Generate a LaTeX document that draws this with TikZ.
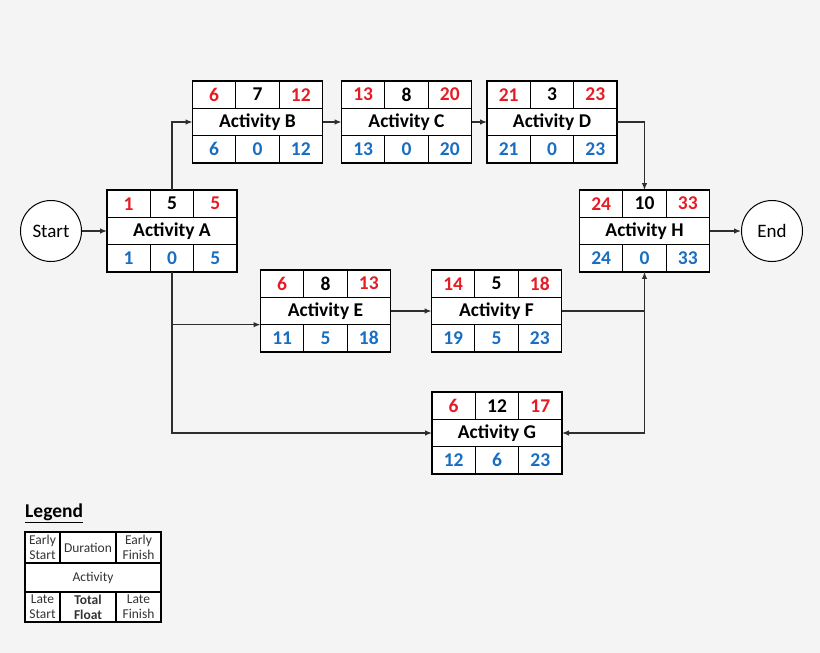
\documentclass[tikz,border=0pt]{standalone}
\usepackage{fontspec}
\setmainfont{Carlito}
\usetikzlibrary{%
  arrows.meta,% Latex tips
  positioning%
}

\definecolor{esred}{RGB}{230,28,36}
\definecolor{lsblue}{RGB}{24,110,192}
\definecolor{paper}{RGB}{244,244,244}

% one activity box: name, centre, label, ES, D, EF, LS, TF, LF
\newcommand{\activity}[9]{%
  \node (#1) [midcell] at (#2) {#3};
  \node (#1-es) [cell,text=esred,anchor=south west] at (#1.north west) {#4};
  \node (#1-d) [cell,anchor=south] at (#1.north) {#5};
  \node (#1-ef) [cell,text=esred,anchor=south east] at (#1.north east) {#6};
  \node (#1-ls) [cell,text=lsblue,anchor=north west] at (#1.south west) {#7};
  \node (#1-tf) [cell,text=lsblue,anchor=north] at (#1.south) {#8};
  \node (#1-lf) [cell,text=lsblue,anchor=north east] at (#1.south east) {#9};
}

\begin{document}
\begin{tikzpicture}[x=1pt,y=-1pt,
	cell/.style={
	rectangle,draw=black,fill=white,line width=1.3pt,
	inner sep=0pt,outer sep=0pt,
	minimum width=43.33pt,minimum height=27.33pt,
	font=\fontsize{19.5}{22}\selectfont\bfseries
	},midcell/.style={
	cell,minimum width=130pt
	},event/.style={
	circle,draw=black,fill=white,line width=1pt,
	minimum size=61pt,inner sep=0pt,
	font=\fontsize{19}{22}\selectfont
	},link/.style={
	draw=black!82,line width=1.2pt,
	-{Latex[length=7pt,width=5.5pt]}
	},key/.style={
	rectangle,draw=black,fill=white,line width=1.2pt,
	inner sep=0pt,outer sep=0pt,align=center,text=black!80,
	font=\fontsize{13.5}{15}\selectfont
	}
]

\fill[paper] (0,0) rectangle (820,653);
\useasboundingbox (0,0) rectangle (820,653);

\node (start) [event] at (51,231) {Start};
\node (end) [event] at (772,231) {End};

\activity{A}{172,231}{Activity A}{1}{5}{5}{1}{0}{5}
\activity{B}{257.5,122}{Activity B}{6}{7}{12}{6}{0}{12}
\activity{C}{406.5,122}{Activity C}{13}{8}{20}{13}{0}{20}
\activity{D}{552,122}{Activity D}{21}{3}{23}{21}{0}{23}
\activity{E}{325.5,311}{Activity E}{6}{8}{13}{11}{5}{18}
\activity{F}{496.5,311}{Activity F}{14}{5}{18}{19}{5}{23}
\activity{G}{497,433}{Activity G}{6}{12}{17}{12}{6}{23}
\activity{H}{644.5,231}{Activity H}{24}{10}{33}{24}{0}{33}

%(x,y) in pixels, y down
\draw[link] (start) -- (A);
\draw[link] (A-d.north) |- (B.west);
\draw[link] (B) -- (C);
\draw[link] (C) -- (D);
\draw[link] (D.east) -| (H-d.north);
\draw[link] (A-tf.south) |- (E.south west);
\draw[link] (A-tf.south) |- (G.west);
\draw[link] (E) -- (F);
\draw[link] (F.east) -| (H-tf.south);
\draw[link] (H-tf.south) |- (G.east);
\draw[link] (H) -- (end);

% legend
\node (legend) [anchor=base west,inner sep=0pt,font=\fontsize{19.5}{22}\selectfont\bfseries]
	at (25,517) {\underline{Legend}};
\node (keyes) [key,anchor=north west,minimum width=35pt,minimum height=31pt] at (25,532) {Early\\Start};
\node (keyd) [key,anchor=north west,minimum width=56pt,minimum height=31pt] at (keyes.north east) {Duration};
\node (keyef) [key,anchor=north west,minimum width=45pt,minimum height=31pt] at (keyd.north east) {Early\\Finish};
\node (keyact) [key,anchor=north west,minimum width=136pt,minimum height=29pt] at (keyes.south west) {Activity};
\node (keyls) [key,anchor=north west,minimum width=35pt,minimum height=30pt] at (keyact.south west) {Late\\Start};
\node (keytf) [key,anchor=north west,minimum width=56pt,minimum height=30pt,font=\fontsize{13.5}{15}\selectfont\bfseries] at (keyls.north east) {Total\\Float};
\node (keylf) [key,anchor=north west,minimum width=45pt,minimum height=30pt] at (keytf.north east) {Late\\Finish};

\end{tikzpicture}
\end{document}
